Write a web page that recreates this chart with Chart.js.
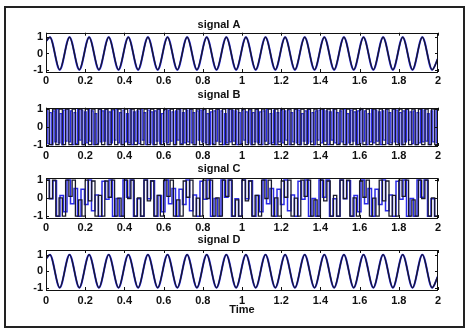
<!DOCTYPE html>
<html>
<head>
<meta charset="utf-8">
<script src="https://cdn.jsdelivr.net/npm/chart.js@4.4.0/dist/chart.umd.min.js"></script>
<style>
  body { margin: 0; background: #fff; width: 474px; height: 333px; overflow: hidden; }
  #frame { position: absolute; left: 4px; top: 6px; width: 461px; height: 322px; box-sizing: border-box; border: 2px solid #222; }
  canvas { position: absolute; left: 0; }
</style>
</head>
<body>
<div id="frame"></div>
<canvas id="sigA"></canvas>
<canvas id="sigB"></canvas>
<canvas id="sigC"></canvas>
<canvas id="sigD"></canvas>

<script>
const xTicks = [0, 0.2, 0.4, 0.6, 0.8, 1, 1.2, 1.4, 1.6, 1.8, 2];
const yTicks = [-1, 0, 1];
const titles = ['signal A', 'signal B', 'signal C', 'signal D'];

// signal A: turning points of the 10 Hz tone
const timesA = [0, 0.02, 0.07, 0.12, 0.17, 0.22, 0.27, 0.32, 0.37, 0.42, 0.47,
  0.52, 0.57, 0.62, 0.67, 0.72, 0.77, 0.82, 0.87, 0.92, 0.97,
  1.02, 1.07, 1.12, 1.17, 1.22, 1.27, 1.32, 1.37, 1.42, 1.47,
  1.52, 1.57, 1.62, 1.67, 1.72, 1.77, 1.82, 1.87, 1.92, 1.97, 2];
const signalA = [0.75, 1, -1, 1, -1, 1, -1, 1, -1, 1, -1,
  1, -1, 1, -1, 1, -1, 1, -1, 1, -1,
  1, -1, 1, -1, 1, -1, 1, -1, 1, -1,
  1, -1, 1, -1, 1, -1, 1, -1, 1, -1, -0.3];

// signal D: same tone after recovery
const timesD = [0, 0.02, 0.07, 0.12, 0.17, 0.22, 0.27, 0.32, 0.37, 0.42, 0.47,
  0.52, 0.57, 0.62, 0.67, 0.72, 0.77, 0.82, 0.87, 0.92, 0.97,
  1.02, 1.07, 1.12, 1.17, 1.22, 1.27, 1.32, 1.37, 1.42, 1.47,
  1.52, 1.57, 1.62, 1.67, 1.72, 1.77, 1.82, 1.87, 1.92, 1.97, 2];
const signalD = [0.75, 1, -1, 1, -1, 1, -1, 1, -1, 1, -1,
  1, -1, 1, -1, 1, -1, 1, -1, 1, -1,
  1, -1, 1, -1, 1, -1, 1, -1, 1, -1,
  1, -1, 1, -1, 1, -1, 1, -1, 1, -1, -0.3];

// sample intervals of the held traces
const stepBlack = 1 / 60;
const stepBlue = 1 / 56;
const stepBlueFast = 1 / 112;

// signal B: fast carrier
const signalB = [
  1,-1,1,-1,1,-1,1,-1,1,-1,1,-1,1,-1,1,-1,1,-1,1,-1,
  1,-1,1,-1,1,-1,1,-1,1,-1,1,-1,1,-1,1,-1,1,-1,1,-1,
  1,-1,1,-1,1,-1,1,-1,1,-1,1,-1,1,-1,1,-1,1,-1,1,-1,
  1,-1,1,-1,1,-1,1,-1,1,-1,1,-1,1,-1,1,-1,1,-1,1,-1,
  1,-1,1,-1,1,-1,1,-1,1,-1,1,-1,1,-1,1,-1,1,-1,1,-1,
  1,-1,1,-1,1,-1,1,-1,1,-1,1,-1,1,-1,1,-1,1,-1,1,-1,
  1];
const signalBblue = [
  1,-0.95,0.8,-1,0.9,-0.85,1,-0.9,0.75,-1,0.95,-0.8,1,-0.85,0.9,-1,0.8,-0.95,1,-0.75,
  0.95,-1,0.85,-0.9,1,-0.8,0.9,-1,0.75,-0.95,1,-0.85,0.9,-0.8,1,-1,0.85,-0.9,0.95,-0.75,
  1,-0.9,0.8,-1,0.95,-0.85,0.75,-0.9,1,-1,0.85,-0.8,0.9,-0.95,1,-0.75,0.8,-1,0.95,-0.9,
  0.85,-1,0.9,-0.8,1,-0.95,0.75,-0.85,1,-0.9,0.95,-0.8,0.85,-1,0.9,-0.75,1,-0.95,0.8,-0.9,
  0.95,-0.85,1,-0.9,0.8,-1,0.9,-0.75,0.95,-0.85,1,-0.9,0.75,-1,0.85,-0.95,0.9,-0.8,1,-0.85,
  0.9,-1,0.75,-0.9,1,-0.85,0.95,-0.8,0.9,-1,0.8,-0.95,1,-0.75,0.85,-0.9,0.95,-1,0.8,-0.85,
  1,-0.9,0.85,-1,0.9,-0.8,1,-0.95,0.75,-0.9,0.95,-1,0.8,-0.85,1,-0.9,0.9,-0.75,0.95,-1,
  0.8,-0.85,1,-0.9,0.95,-1,0.75,-0.8,0.9,-0.95,1,-0.85,0.8,-1,0.9,-0.75,0.95,-0.9,1,-0.8,
  0.9,-1,0.85,-0.75,1,-0.9,0.8,-0.95,0.9,-0.85,1,-1,0.75,-0.9,0.95,-0.8,0.85,-1,0.9,-0.95,
  1,-0.8,0.9,-1,0.75,-0.85,1,-0.9,0.95,-0.8,0.85,-1,0.9,-0.75,1,-0.95,0.8,-0.9,1,-0.85,
  0.95,-0.9,0.8,-1,0.9,-0.85,1,-0.75,0.85,-0.95,0.9,-1,0.8,-0.9,1,-0.85,0.95,-0.8,0.75,-1,
  0.9,-0.85,1,-0.9,0.95];

// signal C: tone plus carrier, clipped to +-1
const signalC = [
  1,-0.02,1,-1,0.02,-1, 1,0.1,1,-1,-0.1,-1, 1,-0.15,0.95,-1,0.15,-1, 0.95,0.05,1,-1,0,-1,
  1,-0.02,1,-1,0.02,-1, 1,-0.15,0.95,-1,0.15,-1, 1,0.1,1,-1,-0.1,-1, 0.95,0.05,1,-1,0,-1,
  1,-0.02,1,-1,0.02,-1, 1,0.1,1,-1,-0.1,-1, 1,-0.15,0.95,-1,0.15,-1, 1,-0.02,1,-1,0.02,-1,
  0.95,0.05,1,-1,0,-1, 1,0.1,1,-1,-0.1,-1, 1,-0.15,0.95,-1,0.15,-1, 1,-0.02,1,-1,0.02,-1,
  0.95,0.05,1,-1,0,-1, 1,-0.15,0.95,-1,0.15,-1, 1,0.1,1,-1,-0.1,-1, 1,-0.02,1,-1,0.02,-1,
  1];
const signalCblue = [
  1,-0.04,0.97,-1,0.15,-0.75,1,-0.31,0.54,-1,0.49,-0.35,1,-0.7,0.18,-1,0.93,-0.06,1,-1,-0.02,-1,1,0.05,1,-1,-0.03,-1,
  1,-0.04,0.97,-1,0.15,-0.75,1,-0.31,0.54,-1,0.49,-0.35,1,-0.7,0.18,-1,0.93,-0.06,1,-1,-0.02,-1,1,0.05,1,-1,-0.03,-1,
  1,-0.04,0.97,-1,0.15,-0.75,1,-0.31,0.54,-1,0.49,-0.35,1,-0.7,0.18,-1,0.93,-0.06,1,-1,-0.02,-1,1,0.05,1,-1,-0.03,-1,
  1,-0.04,0.97,-1,0.15,-0.75,1,-0.31,0.54,-1,0.49,-0.35,1,-0.7,0.18,-1,0.93,-0.06,1,-1,-0.02,-1,1,0.05,1,-1,-0.03,-1,
  1];

const black = '#18182a';
const blue = '#2a2ae6';
const fontFamily = "'Liberation Sans', Arial, sans-serif";
const tickFont = { family: fontFamily, size: 11, weight: 'bold' };

function pairs(times, values) {
  return values.map((v, i) => ({ x: times[i], y: v }));
}
function sampled(step, values) {
  return values.map((v, i) => ({ x: i * step, y: v }));
}

// box round the plot area with MATLAB style inward ticks
const axesBox = {
  id: 'axesBox',
  afterDatasetsDraw(chart) {
    const { ctx, chartArea: a, scales } = chart;
    const len = 3;
    ctx.save();
    ctx.strokeStyle = '#111';
    ctx.lineWidth = 1;
    ctx.strokeRect(Math.round(a.left) + 0.5, Math.round(a.top) + 0.5,
      Math.round(a.right - a.left) - 1, Math.round(a.bottom - a.top));
    ctx.beginPath();
    xTicks.forEach(v => {
      const px = Math.round(scales.x.getPixelForValue(v)) + 0.5;
      ctx.moveTo(px, a.bottom); ctx.lineTo(px, a.bottom - len);
      ctx.moveTo(px, a.top); ctx.lineTo(px, a.top + len);
    });
    yTicks.forEach(v => {
      const py = Math.round(scales.y.getPixelForValue(v)) + 0.5;
      ctx.moveTo(a.left, py); ctx.lineTo(a.left + len, py);
      ctx.moveTo(a.right, py); ctx.lineTo(a.right - len, py);
    });
    ctx.stroke();
    ctx.restore();
  }
};

function makePanel(id, p) {
  const canvas = document.getElementById(id);
  canvas.width = 474;
  canvas.height = p.height;
  canvas.style.top = p.top + 'px';
  return new Chart(canvas, {
    type: 'line',
    data: { datasets: p.datasets },
    options: {
      responsive: false,
      animation: false,
      events: [],
      layout: { padding: { left: 0, right: 36, top: 0, bottom: 0 } },
      elements: { point: { radius: 0 } },
      plugins: {
        legend: { display: false },
        tooltip: { enabled: false },
        title: {
          display: true, text: p.title, color: '#111',
          font: { family: fontFamily, size: 11, weight: 'bold' },
          padding: { top: 0, bottom: p.titleGap }
        }
      },
      scales: {
        x: {
          type: 'linear', min: 0, max: 2,
          afterBuildTicks: s => { s.ticks = xTicks.map(v => ({ value: v })); },
          afterFit: s => { s.height = p.xHeight; },
          grid: { display: false, drawTicks: false },
          border: { display: false },
          ticks: { padding: p.tickPad, color: '#111', font: tickFont, maxRotation: 0, autoSkip: false,
            callback: v => String(v) },
          title: p.xTitle || { display: false }
        },
        y: {
          min: p.yMin, max: p.yMax,
          afterBuildTicks: s => { s.ticks = yTicks.map(v => ({ value: v })); },
          afterFit: s => { s.width = 46; },
          grid: { display: false, drawTicks: false },
          border: { display: false },
          ticks: { padding: 3, color: '#111', font: tickFont, callback: v => String(v) }
        }
      }
    },
    plugins: [axesBox]
  });
}

function tone(times, values) {
  return [
    { data: pairs(times, values), borderColor: black, borderWidth: 1.4, cubicInterpolationMode: 'monotone' },
    { data: pairs(times, values), borderColor: blue, borderWidth: 2, cubicInterpolationMode: 'monotone' }
  ];
}

makePanel('sigA', {
  title: titles[0], top: 18, height: 70, titleGap: 1.5, xHeight: 16, tickPad: 2,
  yMin: -1.14, yMax: 1.28,
  datasets: tone(timesA, signalA)
});

makePanel('sigB', {
  title: titles[1], top: 88, height: 74, titleGap: 6.5, xHeight: 16, tickPad: 3,
  yMin: -1.08, yMax: 1.08,
  datasets: [
    { data: sampled(stepBlack, signalB), borderColor: black, borderWidth: 1.2, stepped: true },
    { data: sampled(stepBlueFast, signalBblue), borderColor: blue, borderWidth: 1.2, stepped: true }
  ]
});

makePanel('sigC', {
  title: titles[2], top: 162, height: 72, titleGap: 3.1, xHeight: 16, tickPad: 3,
  yMin: -1.1, yMax: 1.1,
  datasets: [
    { data: sampled(stepBlack, signalC), borderColor: black, borderWidth: 1.3, stepped: true },
    { data: sampled(stepBlue, signalCblue), borderColor: blue, borderWidth: 1.5, stepped: true }
  ]
});

makePanel('sigD', {
  title: titles[3], top: 233, height: 84, titleGap: 3.8, xHeight: 27, tickPad: 4,
  yMin: -1.14, yMax: 1.28,
  xTitle: { display: true, text: 'Time', color: '#111', font: tickFont, padding: { top: 0, bottom: 0 } },
  datasets: tone(timesD, signalD)
});
</script>
</body>
</html>
